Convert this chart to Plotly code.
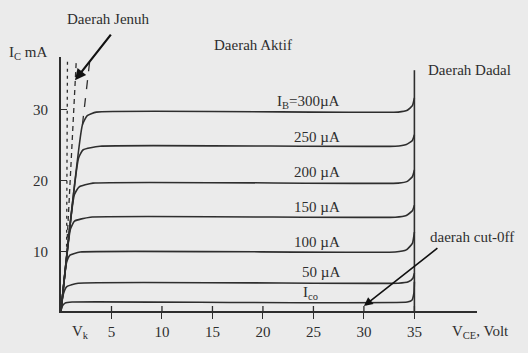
import plotly.graph_objects as go

# ---- data ----
V_ORIGIN = 1.69          # I_C value where the curves leave the axes corner
Y_TOP = 37.46
X_MAX = 41.2

x_ticks = [5, 10, 15, 20, 25, 30, 35]
x_tick_text = ["5", "10", "15", "20", "25", "30", "35"]
y_ticks = [10, 20, 30]
y_tick_text = ["10", "20", "30"]

ib_labels = ["I<sub>B</sub>=300µA", "250 µA", "200 µA", "150 µA", "100 µA", "50 µA", "I<sub>co</sub>"]
label_y = [31.13, 26.2, 21.27, 16.34, 11.41, 7.18, 4.23]

# curve control points (V_CE, I_C)
c300_x = [0, 2.12, 2.6, 3.5, 33.4, 34.3, 34.8, 35]
c300_y = [1.69, 27.9, 29.2, 29.7, 29.7, 29.95, 30.6, 31.7]
c250_x = [0, 1.74, 2.2, 3.86, 33.1, 34.2, 34.8, 35]
c250_y = [1.69, 23.25, 24.4, 24.9, 24.9, 25.15, 25.7, 26.5]
c200_x = [0, 1.32, 1.78, 3.17, 33.4, 34.3, 34.8, 35]
c200_y = [1.69, 18.05, 19.15, 19.7, 19.7, 19.95, 20.6, 21.55]
c150_x = [0, 0.93, 1.34, 2.9, 33.1, 34.2, 34.8, 35]
c150_y = [1.69, 13.2, 14.35, 14.9, 14.9, 15.15, 15.8, 16.6]
c100_x = [0, 0.55, 0.89, 1.9, 33.1, 34.2, 34.8, 35]
c100_y = [1.69, 8.5, 9.55, 10.0, 10.0, 10.3, 11.2, 12.8]
c50_x = [0, 0.2, 0.55, 1.7, 33.4, 34.4, 34.85, 35]
c50_y = [1.69, 3.9, 5.1, 5.6, 5.6, 5.8, 6.3, 7.0]
cico_x = [0, 0.1, 0.4, 1.1, 34.3, 34.75, 34.95, 35]
cico_y = [1.69, 2.3, 2.8, 2.95, 2.95, 3.2, 4.2, 5.8]

breakdown_x = [35, 35]
breakdown_y = [1.69, 35.6]

sat_slant_x = [2.12, 2.95]
sat_slant_y = [27.9, 38.2]
sat_dot_x = [0.64, 0.55]
sat_dot_y = [36.8, 9.0]
sat_dash_x = [1.5, 0.62]
sat_dash_y = [36.6, 12.0]

BG = "#ebebeb"
INK = "#2e2e2e"
FONT = "Liberation Serif"

fig = go.Figure()

curves = [(c300_x, c300_y), (c250_x, c250_y), (c200_x, c200_y), (c150_x, c150_y),
          (c100_x, c100_y), (c50_x, c50_y), (cico_x, cico_y)]
for cx, cy in curves:
    fig.add_trace(go.Scatter(x=cx, y=cy, mode="lines",
                             line=dict(color=INK, width=1.6, shape="spline", smoothing=0.45),
                             hoverinfo="skip", showlegend=False))

fig.add_trace(go.Scatter(x=breakdown_x, y=breakdown_y, mode="lines",
                         line=dict(color=INK, width=1.6), showlegend=False, hoverinfo="skip"))
fig.add_trace(go.Scatter(x=sat_slant_x, y=sat_slant_y, mode="lines",
                         line=dict(color=INK, width=1.3, dash="dash"), showlegend=False, hoverinfo="skip"))
fig.add_trace(go.Scatter(x=sat_dot_x, y=sat_dot_y, mode="lines",
                         line=dict(color=INK, width=1.3, dash="3px,4px"), showlegend=False, hoverinfo="skip"))
fig.add_trace(go.Scatter(x=sat_dash_x, y=sat_dash_y, mode="lines",
                         line=dict(color=INK, width=1.3, dash="5px,4px"), showlegend=False, hoverinfo="skip"))

ann = []
def txt(x, y, s, xanchor="center", ref="data", size=15):
    r = ("x", "y") if ref == "data" else ("paper", "paper")
    ann.append(dict(x=x, y=y, xref=r[0], yref=r[1], text=s, showarrow=False,
                    xanchor=xanchor, yanchor="middle",
                    font=dict(family=FONT, size=size, color=INK)))

for lab, ly in zip(ib_labels[:-1], label_y[:-1]):
    txt(27.8, ly, lab, xanchor="right")
txt(24.75, label_y[-1], ib_labels[-1])
txt(40.5, 35.6, "Daerah Dadal")
txt(40.7, 12.1, "daerah cut-0ff")
# texts outside the plotting area (paper coordinates)
txt(0.113, 1.150, "Daerah Jenuh", ref="paper")
txt(-0.130, 1.016, "I<sub>C</sub> mA", xanchor="left", ref="paper")
txt(0.4615, 1.047, "Daerah Aktif", ref="paper")
txt(0.0457, -0.0827, "V<sub>k</sub>", ref="paper")
txt(0.935, -0.0827, "V<sub>CE</sub>, Volt", xanchor="left", ref="paper")

ann.append(dict(x=1.39, y=34.2, xref="x", yref="y", ax=37, ay=-47, text="",
                showarrow=True, arrowhead=2, arrowsize=1, arrowwidth=2.2, arrowcolor="#111"))
ann.append(dict(x=30.0, y=2.39, xref="x", yref="y", ax=75, ay=-59, text="",
                showarrow=True, arrowhead=2, arrowsize=1.1, arrowwidth=1.6, arrowcolor="#111"))

shapes = []
for t in x_ticks:
    shapes.append(dict(type="line", xref="x", yref="paper", x0=t, x1=t,
                       y0=0, y1=5 / 254, line=dict(color=INK, width=1.3)))

fig.update_layout(
    width=528, height=353,
    margin=dict(l=61, r=51, t=57, b=42),
    paper_bgcolor=BG, plot_bgcolor=BG,
    annotations=ann, shapes=shapes,
    xaxis=dict(range=[0, X_MAX], tickvals=x_ticks, ticktext=x_tick_text,
               showgrid=False, zeroline=False, showline=True, linecolor=INK, linewidth=2,
               ticks="outside", ticklen=6, tickwidth=1.3, tickcolor=INK,
               tickfont=dict(family=FONT, size=15, color=INK), fixedrange=True),
    yaxis=dict(range=[V_ORIGIN, Y_TOP], tickvals=y_ticks, ticktext=y_tick_text,
               showgrid=False, zeroline=False, showline=True, linecolor=INK, linewidth=2,
               ticks="inside", ticklen=6, tickwidth=1.3, tickcolor=INK,
               tickfont=dict(family=FONT, size=15, color=INK), ticklabelstandoff=8,
               fixedrange=True),
    showlegend=False,
)

fig.write_html("out.html")
